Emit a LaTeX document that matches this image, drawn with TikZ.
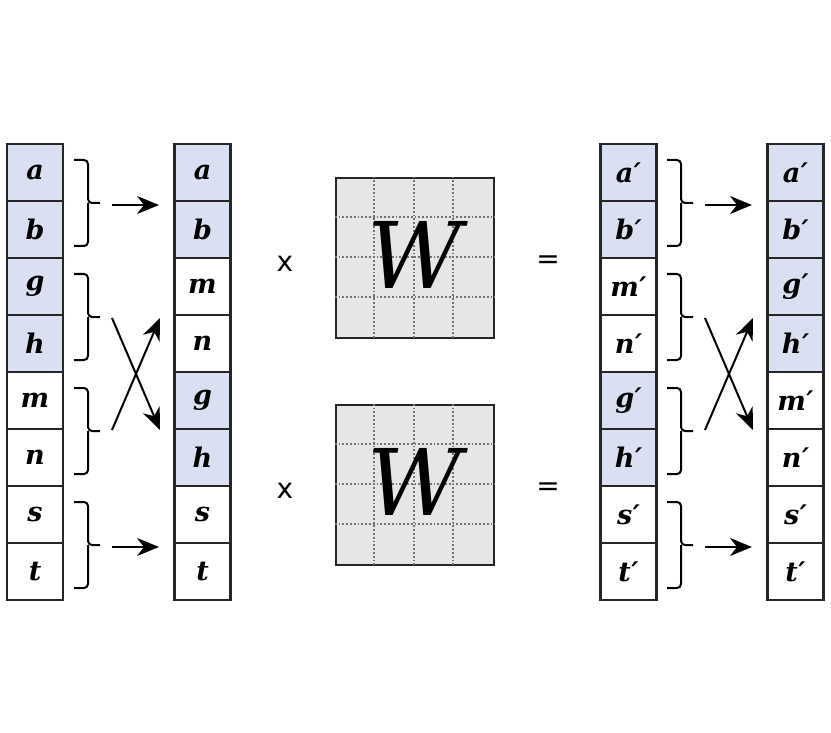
\documentclass[tikz,border=0pt]{standalone}
\usepackage{fontspec}
\setmainfont{DejaVu Serif}
\newfontfamily\sansf{DejaVu Sans}
\usetikzlibrary{arrows.meta}
\definecolor{cb}{HTML}{DAE0F1}
\definecolor{wg}{HTML}{E6E6E6}
\protected\def\pq{\kern0.5pt{\sansf\bfseries\itshape ′}}
\begin{document}
\begin{tikzpicture}[x=1pt,y=-1pt,
 cell/.style={draw=black!85,line width=2.6pt,minimum width=56pt,minimum height=57pt,inner sep=0pt,font=\bfseries\itshape\fontsize{27}{27}\selectfont},
 brc/.style={line width=2pt,rounded corners=4pt},
 arr/.style={line width=2pt,-{Stealth[length=22pt,width=18pt,inset=7pt]}}]
\useasboundingbox (0,0) rectangle (831,733);
\def\col#1#2#3#4{%
 \foreach \t/\f [count=\i from 0] in {#3}{
  \node[cell,fill=\f] (#1\i) at (#2,172.5+57*\i) {\t#4};}}
\col{A}{35}{a/cb,b/cb,g/cb,h/cb,m/white,n/white,s/white,t/white}{}
\col{B}{202.5}{a/cb,b/cb,m/white,n/white,g/cb,h/cb,s/white,t/white}{}
\col{C}{628.5}{a/cb,b/cb,m/white,n/white,g/cb,h/cb,s/white,t/white}{\pq}
\col{D}{795.5}{a/cb,b/cb,g/cb,h/cb,m/white,n/white,s/white,t/white}{\pq}
\foreach \x/\ax in {74/112,667/705}{
 \foreach \c in {203,317,431,545}{
  \draw[brc] (\x,\c-43) -- (\x+14,\c-43) -- (\x+14,\c) -- (\x+26,\c);
  \draw[brc] (\x,\c+43) -- (\x+14,\c+43) -- (\x+14,\c) ;}
 \coordinate (s1) at (\ax,205); \coordinate (e1) at (\ax+47,205);
 \coordinate (s2) at (\ax,547); \coordinate (e2) at (\ax+47,547);
 \coordinate (s3) at (\ax,318); \coordinate (e3) at (\ax+48,430);
 \coordinate (s4) at (\ax,430); \coordinate (e4) at (\ax+48,318);
 \draw[arr] (s1)--(e1); \draw[arr] (s2)--(e2);
 \draw[arr] (s3)--(e3); \draw[arr] (s4)--(e4);
}
\foreach \n/\y in {W1/258,W2/485}{
 \node[draw=black!85,line width=2.6pt,fill=wg,minimum width=158pt,minimum height=160pt,inner sep=0pt] (\n) at (415,\y) {};
 \foreach \k in {1,2,3}{
  \draw[gray!90!black,dotted,line width=1.8pt] ([xshift=39.5*\k pt]\n.north west) -- ([xshift=39.5*\k pt]\n.south west);
  \draw[gray!90!black,dotted,line width=1.8pt] ([yshift=-40*\k pt]\n.north west) -- ([yshift=-40*\k pt]\n.north east);}
 \node[font=\itshape\fontsize{92}{92}\selectfont] at ([yshift=3pt]\n.center) {W};
}
\node[font=\sansf\fontsize{28}{28}\selectfont] (x1) at (285,264) {x};
\node[font=\sansf\fontsize{28}{28}\selectfont] (x2) at (285,491) {x};
\node[font=\sansf\fontsize{28}{28}\selectfont] (q1) at (548,262) {=};
\node[font=\sansf\fontsize{28}{28}\selectfont] (q2) at (548,489) {=};
\end{tikzpicture}
\end{document}
